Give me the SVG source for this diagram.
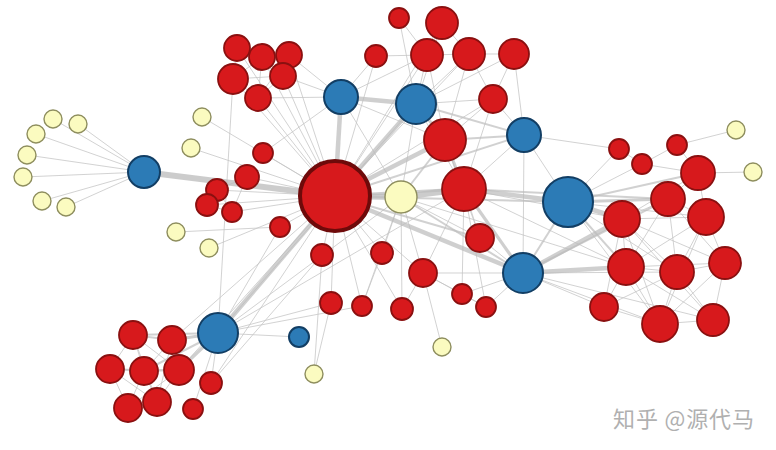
<svg xmlns="http://www.w3.org/2000/svg" width="776" height="450" viewBox="0 0 776 450">
<style>
.e1{stroke:#c4c4c4;stroke-width:0.9;stroke-opacity:0.85}
.e2{stroke:#bdbdbd;stroke-width:2;stroke-opacity:0.7}
.e3{stroke:#bbbbbb;stroke-width:3.2;stroke-opacity:0.7}
.e4{stroke:#bbbbbb;stroke-width:4.5;stroke-opacity:0.7}
.e5{stroke:#bbbbbb;stroke-width:6;stroke-opacity:0.75}
.r{fill:#d7191c;stroke:#8a1010;stroke-width:1.8}
.b{fill:#2c7bb6;stroke:#123e64;stroke-width:2}
.y{fill:#fbfbc0;stroke:#8e8e5e;stroke-width:1.4}
.big{fill:#d7191c;stroke:#6e0a0a;stroke-width:4}
.wm{font-family:"Noto Sans CJK SC","Noto Sans",sans-serif;font-size:22px;fill:#b0b0b0}
</style>
<rect width="776" height="450" fill="#ffffff"/>
<g id="connectors">
<line class="e1" x1="53" y1="119" x2="144" y2="172"/>
<line class="e1" x1="78" y1="124" x2="144" y2="172"/>
<line class="e1" x1="36" y1="134" x2="144" y2="172"/>
<line class="e1" x1="27" y1="155" x2="144" y2="172"/>
<line class="e1" x1="23" y1="177" x2="144" y2="172"/>
<line class="e1" x1="42" y1="201" x2="144" y2="172"/>
<line class="e1" x1="66" y1="207" x2="144" y2="172"/>
<line class="e1" x1="202" y1="117" x2="335" y2="196"/>
<line class="e1" x1="191" y1="148" x2="335" y2="196"/>
<line class="e1" x1="176" y1="232" x2="280" y2="227"/>
<line class="e1" x1="209" y1="248" x2="335" y2="196"/>
<line class="e1" x1="314" y1="374" x2="331" y2="303"/>
<line class="e1" x1="442" y1="347" x2="423" y2="273"/>
<line class="e1" x1="736" y1="130" x2="677" y2="145"/>
<line class="e1" x1="753" y1="172" x2="698" y2="173"/>
<line class="e1" x1="237" y1="48" x2="262" y2="57"/>
<line class="e1" x1="237" y1="48" x2="233" y2="79"/>
<line class="e1" x1="237" y1="48" x2="289" y2="55"/>
<line class="e1" x1="262" y1="57" x2="233" y2="79"/>
<line class="e1" x1="262" y1="57" x2="283" y2="76"/>
<line class="e1" x1="262" y1="57" x2="258" y2="98"/>
<line class="e1" x1="289" y1="55" x2="283" y2="76"/>
<line class="e1" x1="233" y1="79" x2="258" y2="98"/>
<line class="e1" x1="283" y1="76" x2="258" y2="98"/>
<line class="e1" x1="237" y1="48" x2="283" y2="76"/>
<line class="e1" x1="289" y1="55" x2="258" y2="98"/>
<line class="e1" x1="233" y1="79" x2="283" y2="76"/>
<line class="e1" x1="237" y1="48" x2="335" y2="196"/>
<line class="e1" x1="262" y1="57" x2="335" y2="196"/>
<line class="e1" x1="289" y1="55" x2="335" y2="196"/>
<line class="e1" x1="233" y1="79" x2="335" y2="196"/>
<line class="e1" x1="283" y1="76" x2="335" y2="196"/>
<line class="e1" x1="258" y1="98" x2="335" y2="196"/>
<line class="e1" x1="283" y1="76" x2="341" y2="97"/>
<line class="e1" x1="289" y1="55" x2="341" y2="97"/>
<line class="e1" x1="258" y1="98" x2="341" y2="97"/>
<line class="e1" x1="233" y1="79" x2="218" y2="333"/>
<line class="e1" x1="376" y1="56" x2="341" y2="97"/>
<line class="e1" x1="376" y1="56" x2="335" y2="196"/>
<line class="e1" x1="376" y1="56" x2="427" y2="55"/>
<line class="e1" x1="263" y1="153" x2="335" y2="196"/>
<line class="e1" x1="247" y1="177" x2="335" y2="196"/>
<line class="e1" x1="217" y1="190" x2="335" y2="196"/>
<line class="e1" x1="207" y1="205" x2="335" y2="196"/>
<line class="e1" x1="232" y1="212" x2="335" y2="196"/>
<line class="e1" x1="247" y1="177" x2="217" y2="190"/>
<line class="e1" x1="217" y1="190" x2="207" y2="205"/>
<line class="e1" x1="207" y1="205" x2="232" y2="212"/>
<line class="e1" x1="247" y1="177" x2="232" y2="212"/>
<line class="e1" x1="217" y1="190" x2="232" y2="212"/>
<line class="e1" x1="263" y1="153" x2="341" y2="97"/>
<line class="e1" x1="280" y1="227" x2="335" y2="196"/>
<line class="e1" x1="322" y1="255" x2="335" y2="196"/>
<line class="e1" x1="322" y1="255" x2="314" y2="374"/>
<line class="e1" x1="382" y1="253" x2="335" y2="196"/>
<line class="e1" x1="382" y1="253" x2="401" y2="197"/>
<line class="e1" x1="382" y1="253" x2="362" y2="306"/>
<line class="e1" x1="480" y1="238" x2="464" y2="189"/>
<line class="e1" x1="480" y1="238" x2="523" y2="273"/>
<line class="e1" x1="480" y1="238" x2="401" y2="197"/>
<line class="e1" x1="480" y1="238" x2="445" y2="140"/>
<line class="e1" x1="423" y1="273" x2="401" y2="197"/>
<line class="e1" x1="423" y1="273" x2="335" y2="196"/>
<line class="e1" x1="423" y1="273" x2="464" y2="189"/>
<line class="e1" x1="423" y1="273" x2="402" y2="309"/>
<line class="e1" x1="423" y1="273" x2="462" y2="294"/>
<line class="e1" x1="423" y1="273" x2="523" y2="273"/>
<line class="e1" x1="423" y1="273" x2="486" y2="307"/>
<line class="e1" x1="331" y1="303" x2="335" y2="196"/>
<line class="e1" x1="362" y1="306" x2="335" y2="196"/>
<line class="e1" x1="362" y1="306" x2="401" y2="197"/>
<line class="e1" x1="402" y1="309" x2="401" y2="197"/>
<line class="e1" x1="402" y1="309" x2="335" y2="196"/>
<line class="e1" x1="462" y1="294" x2="523" y2="273"/>
<line class="e1" x1="462" y1="294" x2="464" y2="189"/>
<line class="e1" x1="486" y1="307" x2="523" y2="273"/>
<line class="e1" x1="486" y1="307" x2="462" y2="294"/>
<line class="e1" x1="486" y1="307" x2="464" y2="189"/>
<line class="e1" x1="399" y1="18" x2="427" y2="55"/>
<line class="e1" x1="399" y1="18" x2="416" y2="104"/>
<line class="e1" x1="442" y1="23" x2="427" y2="55"/>
<line class="e1" x1="442" y1="23" x2="469" y2="54"/>
<line class="e1" x1="442" y1="23" x2="416" y2="104"/>
<line class="e1" x1="442" y1="23" x2="335" y2="196"/>
<line class="e1" x1="427" y1="55" x2="469" y2="54"/>
<line class="e1" x1="427" y1="55" x2="416" y2="104"/>
<line class="e1" x1="427" y1="55" x2="335" y2="196"/>
<line class="e1" x1="427" y1="55" x2="445" y2="140"/>
<line class="e1" x1="469" y1="54" x2="514" y2="54"/>
<line class="e1" x1="469" y1="54" x2="416" y2="104"/>
<line class="e1" x1="469" y1="54" x2="445" y2="140"/>
<line class="e1" x1="469" y1="54" x2="493" y2="99"/>
<line class="e1" x1="469" y1="54" x2="335" y2="196"/>
<line class="e1" x1="514" y1="54" x2="493" y2="99"/>
<line class="e1" x1="514" y1="54" x2="524" y2="135"/>
<line class="e1" x1="514" y1="54" x2="416" y2="104"/>
<line class="e1" x1="493" y1="99" x2="416" y2="104"/>
<line class="e1" x1="493" y1="99" x2="445" y2="140"/>
<line class="e1" x1="493" y1="99" x2="524" y2="135"/>
<line class="e1" x1="493" y1="99" x2="464" y2="189"/>
<line class="e1" x1="493" y1="99" x2="335" y2="196"/>
<line class="e1" x1="416" y1="104" x2="464" y2="189"/>
<line class="e1" x1="416" y1="104" x2="401" y2="197"/>
<line class="e1" x1="524" y1="135" x2="464" y2="189"/>
<line class="e1" x1="524" y1="135" x2="619" y2="149"/>
<line class="e1" x1="524" y1="135" x2="568" y2="202"/>
<line class="e1" x1="524" y1="135" x2="523" y2="273"/>
<line class="e1" x1="341" y1="97" x2="445" y2="140"/>
<line class="e1" x1="341" y1="97" x2="401" y2="197"/>
<line class="e1" x1="341" y1="97" x2="427" y2="55"/>
<line class="e1" x1="619" y1="149" x2="568" y2="202"/>
<line class="e1" x1="619" y1="149" x2="642" y2="164"/>
<line class="e1" x1="677" y1="145" x2="642" y2="164"/>
<line class="e1" x1="677" y1="145" x2="698" y2="173"/>
<line class="e1" x1="642" y1="164" x2="568" y2="202"/>
<line class="e1" x1="642" y1="164" x2="698" y2="173"/>
<line class="e1" x1="698" y1="173" x2="668" y2="199"/>
<line class="e1" x1="698" y1="173" x2="706" y2="217"/>
<line class="e1" x1="698" y1="173" x2="622" y2="219"/>
<line class="e1" x1="668" y1="199" x2="622" y2="219"/>
<line class="e1" x1="668" y1="199" x2="706" y2="217"/>
<line class="e1" x1="668" y1="199" x2="626" y2="267"/>
<line class="e1" x1="668" y1="199" x2="677" y2="272"/>
<line class="e1" x1="668" y1="199" x2="725" y2="263"/>
<line class="e1" x1="622" y1="219" x2="706" y2="217"/>
<line class="e1" x1="622" y1="219" x2="626" y2="267"/>
<line class="e1" x1="622" y1="219" x2="677" y2="272"/>
<line class="e1" x1="622" y1="219" x2="604" y2="307"/>
<line class="e1" x1="622" y1="219" x2="660" y2="324"/>
<line class="e1" x1="622" y1="219" x2="713" y2="320"/>
<line class="e1" x1="622" y1="219" x2="725" y2="263"/>
<line class="e1" x1="706" y1="217" x2="626" y2="267"/>
<line class="e1" x1="706" y1="217" x2="677" y2="272"/>
<line class="e1" x1="706" y1="217" x2="725" y2="263"/>
<line class="e1" x1="706" y1="217" x2="660" y2="324"/>
<line class="e1" x1="626" y1="267" x2="677" y2="272"/>
<line class="e1" x1="626" y1="267" x2="725" y2="263"/>
<line class="e1" x1="626" y1="267" x2="604" y2="307"/>
<line class="e1" x1="626" y1="267" x2="660" y2="324"/>
<line class="e1" x1="626" y1="267" x2="713" y2="320"/>
<line class="e1" x1="677" y1="272" x2="725" y2="263"/>
<line class="e1" x1="677" y1="272" x2="660" y2="324"/>
<line class="e1" x1="677" y1="272" x2="713" y2="320"/>
<line class="e1" x1="677" y1="272" x2="604" y2="307"/>
<line class="e1" x1="725" y1="263" x2="713" y2="320"/>
<line class="e1" x1="725" y1="263" x2="660" y2="324"/>
<line class="e1" x1="604" y1="307" x2="660" y2="324"/>
<line class="e1" x1="604" y1="307" x2="523" y2="273"/>
<line class="e1" x1="660" y1="324" x2="713" y2="320"/>
<line class="e1" x1="660" y1="324" x2="523" y2="273"/>
<line class="e1" x1="713" y1="320" x2="523" y2="273"/>
<line class="e1" x1="677" y1="272" x2="523" y2="273"/>
<line class="e1" x1="568" y1="202" x2="706" y2="217"/>
<line class="e1" x1="568" y1="202" x2="677" y2="272"/>
<line class="e1" x1="568" y1="202" x2="660" y2="324"/>
<line class="e1" x1="464" y1="189" x2="622" y2="219"/>
<line class="e1" x1="464" y1="189" x2="626" y2="267"/>
<line class="e1" x1="401" y1="197" x2="626" y2="267"/>
<line class="e1" x1="133" y1="335" x2="110" y2="369"/>
<line class="e1" x1="133" y1="335" x2="144" y2="371"/>
<line class="e1" x1="133" y1="335" x2="179" y2="370"/>
<line class="e1" x1="172" y1="340" x2="144" y2="371"/>
<line class="e1" x1="110" y1="369" x2="128" y2="408"/>
<line class="e1" x1="110" y1="369" x2="157" y2="402"/>
<line class="e1" x1="144" y1="371" x2="128" y2="408"/>
<line class="e1" x1="144" y1="371" x2="157" y2="402"/>
<line class="e1" x1="179" y1="370" x2="157" y2="402"/>
<line class="e1" x1="128" y1="408" x2="157" y2="402"/>
<line class="e1" x1="110" y1="369" x2="179" y2="370"/>
<line class="e1" x1="133" y1="335" x2="157" y2="402"/>
<line class="e1" x1="172" y1="340" x2="157" y2="402"/>
<line class="e1" x1="179" y1="370" x2="128" y2="408"/>
<line class="e1" x1="218" y1="333" x2="211" y2="383"/>
<line class="e1" x1="193" y1="409" x2="218" y2="333"/>
<line class="e1" x1="211" y1="383" x2="335" y2="196"/>
<line class="e1" x1="172" y1="340" x2="335" y2="196"/>
<line class="e1" x1="179" y1="370" x2="335" y2="196"/>
<line class="e1" x1="218" y1="333" x2="401" y2="197"/>
<line class="e1" x1="218" y1="333" x2="464" y2="189"/>
<line class="e1" x1="218" y1="333" x2="416" y2="104"/>
<line class="e1" x1="218" y1="333" x2="299" y2="337"/>
<line class="e1" x1="218" y1="333" x2="331" y2="303"/>
<line class="e1" x1="211" y1="383" x2="322" y2="255"/>
<line class="e1" x1="218" y1="333" x2="362" y2="306"/>
<line class="e1" x1="218" y1="333" x2="280" y2="227"/>
<line class="e2" x1="218" y1="333" x2="133" y2="335"/>
<line class="e2" x1="218" y1="333" x2="144" y2="371"/>
<line class="e2" x1="401" y1="197" x2="523" y2="273"/>
<line class="e2" x1="401" y1="197" x2="445" y2="140"/>
<line class="e2" x1="464" y1="189" x2="668" y2="199"/>
<line class="e2" x1="568" y1="202" x2="698" y2="173"/>
<line class="e2" x1="416" y1="104" x2="524" y2="135"/>
<line class="e2" x1="445" y1="140" x2="524" y2="135"/>
<line class="e2" x1="523" y1="273" x2="568" y2="202"/>
<line class="e2" x1="133" y1="335" x2="172" y2="340"/>
<line class="e2" x1="110" y1="369" x2="144" y2="371"/>
<line class="e2" x1="144" y1="371" x2="179" y2="370"/>
<line class="e2" x1="172" y1="340" x2="179" y2="370"/>
<line class="e2" x1="523" y1="273" x2="668" y2="199"/>
<line class="e2" x1="568" y1="202" x2="626" y2="267"/>
<line class="e2" x1="335" y1="196" x2="480" y2="238"/>
<line class="e2" x1="335" y1="196" x2="524" y2="135"/>
<line class="e2" x1="335" y1="196" x2="568" y2="202"/>
<line class="e3" x1="416" y1="104" x2="445" y2="140"/>
<line class="e3" x1="445" y1="140" x2="464" y2="189"/>
<line class="e3" x1="523" y1="273" x2="464" y2="189"/>
<line class="e3" x1="568" y1="202" x2="668" y2="199"/>
<line class="e3" x1="218" y1="333" x2="172" y2="340"/>
<line class="e3" x1="218" y1="333" x2="179" y2="370"/>
<line class="e3" x1="335" y1="196" x2="464" y2="189"/>
<line class="e4" x1="335" y1="196" x2="416" y2="104"/>
<line class="e4" x1="335" y1="196" x2="445" y2="140"/>
<line class="e4" x1="464" y1="189" x2="568" y2="202"/>
<line class="e4" x1="335" y1="196" x2="341" y2="97"/>
<line class="e4" x1="341" y1="97" x2="416" y2="104"/>
<line class="e4" x1="335" y1="196" x2="218" y2="333"/>
<line class="e4" x1="335" y1="196" x2="523" y2="273"/>
<line class="e4" x1="523" y1="273" x2="622" y2="219"/>
<line class="e4" x1="523" y1="273" x2="626" y2="267"/>
<line class="e4" x1="568" y1="202" x2="622" y2="219"/>
<line class="e5" x1="144" y1="172" x2="335" y2="196"/>
<line class="e5" x1="335" y1="196" x2="401" y2="197"/>
<line class="e5" x1="401" y1="197" x2="464" y2="189"/>
</g>
<g id="n-y01"><circle class="y" cx="53" cy="119" r="9"/></g>
<g id="n-y02"><circle class="y" cx="78" cy="124" r="9"/></g>
<g id="n-y03"><circle class="y" cx="36" cy="134" r="9"/></g>
<g id="n-y04"><circle class="y" cx="27" cy="155" r="9"/></g>
<g id="n-y05"><circle class="y" cx="23" cy="177" r="9"/></g>
<g id="n-y06"><circle class="y" cx="42" cy="201" r="9"/></g>
<g id="n-y07"><circle class="y" cx="66" cy="207" r="9"/></g>
<g id="n-y08"><circle class="y" cx="202" cy="117" r="9"/></g>
<g id="n-y09"><circle class="y" cx="191" cy="148" r="9"/></g>
<g id="n-y10"><circle class="y" cx="176" cy="232" r="9"/></g>
<g id="n-y11"><circle class="y" cx="209" cy="248" r="9"/></g>
<g id="n-y12"><circle class="y" cx="314" cy="374" r="9"/></g>
<g id="n-y13"><circle class="y" cx="442" cy="347" r="9"/></g>
<g id="n-y14"><circle class="y" cx="736" cy="130" r="9"/></g>
<g id="n-y15"><circle class="y" cx="753" cy="172" r="9"/></g>
<g id="n-y16"><circle class="y" cx="401" cy="197" r="16"/></g>
<g id="n-b1"><circle class="b" cx="144" cy="172" r="16"/></g>
<g id="n-b2"><circle class="b" cx="341" cy="97" r="17"/></g>
<g id="n-b3"><circle class="b" cx="416" cy="104" r="20"/></g>
<g id="n-b4"><circle class="b" cx="524" cy="135" r="17"/></g>
<g id="n-b5"><circle class="b" cx="568" cy="202" r="25"/></g>
<g id="n-b6"><circle class="b" cx="523" cy="273" r="20"/></g>
<g id="n-b7"><circle class="b" cx="218" cy="333" r="20"/></g>
<g id="n-b8"><circle class="b" cx="299" cy="337" r="10"/></g>
<g id="n-t1"><circle class="r" cx="237" cy="48" r="13"/></g>
<g id="n-t2"><circle class="r" cx="262" cy="57" r="13"/></g>
<g id="n-t3"><circle class="r" cx="289" cy="55" r="13"/></g>
<g id="n-t5"><circle class="r" cx="283" cy="76" r="13"/></g>
<g id="n-t4"><circle class="r" cx="233" cy="79" r="15"/></g>
<g id="n-t6"><circle class="r" cx="258" cy="98" r="13"/></g>
<g id="n-u0"><circle class="r" cx="376" cy="56" r="11"/></g>
<g id="n-l1"><circle class="r" cx="263" cy="153" r="10"/></g>
<g id="n-l2"><circle class="r" cx="247" cy="177" r="12"/></g>
<g id="n-l3"><circle class="r" cx="217" cy="190" r="11"/></g>
<g id="n-l4"><circle class="r" cx="207" cy="205" r="11"/></g>
<g id="n-l5"><circle class="r" cx="232" cy="212" r="10"/></g>
<g id="n-u1"><circle class="r" cx="399" cy="18" r="10"/></g>
<g id="n-u2"><circle class="r" cx="442" cy="23" r="16"/></g>
<g id="n-u3"><circle class="r" cx="427" cy="55" r="16"/></g>
<g id="n-u4"><circle class="r" cx="469" cy="54" r="16"/></g>
<g id="n-u5"><circle class="r" cx="514" cy="54" r="15"/></g>
<g id="n-u6"><circle class="r" cx="493" cy="99" r="14"/></g>
<g id="n-u7"><circle class="r" cx="445" cy="140" r="21"/></g>
<g id="n-m1"><circle class="r" cx="464" cy="189" r="22"/></g>
<g id="n-v1"><circle class="r" cx="619" cy="149" r="10"/></g>
<g id="n-v2"><circle class="r" cx="677" cy="145" r="10"/></g>
<g id="n-v3"><circle class="r" cx="642" cy="164" r="10"/></g>
<g id="n-v4"><circle class="r" cx="698" cy="173" r="17"/></g>
<g id="n-v5"><circle class="r" cx="668" cy="199" r="17"/></g>
<g id="n-v6"><circle class="r" cx="622" cy="219" r="18"/></g>
<g id="n-v7"><circle class="r" cx="706" cy="217" r="18"/></g>
<g id="n-v8"><circle class="r" cx="626" cy="267" r="18"/></g>
<g id="n-v9"><circle class="r" cx="677" cy="272" r="17"/></g>
<g id="n-v10"><circle class="r" cx="725" cy="263" r="16"/></g>
<g id="n-v11"><circle class="r" cx="604" cy="307" r="14"/></g>
<g id="n-v12"><circle class="r" cx="660" cy="324" r="18"/></g>
<g id="n-v13"><circle class="r" cx="713" cy="320" r="16"/></g>
<g id="n-m2"><circle class="r" cx="280" cy="227" r="10"/></g>
<g id="n-m3"><circle class="r" cx="322" cy="255" r="11"/></g>
<g id="n-m4"><circle class="r" cx="382" cy="253" r="11"/></g>
<g id="n-m5"><circle class="r" cx="480" cy="238" r="14"/></g>
<g id="n-m6"><circle class="r" cx="423" cy="273" r="14"/></g>
<g id="n-m7"><circle class="r" cx="331" cy="303" r="11"/></g>
<g id="n-m8"><circle class="r" cx="362" cy="306" r="10"/></g>
<g id="n-m9"><circle class="r" cx="402" cy="309" r="11"/></g>
<g id="n-m10"><circle class="r" cx="462" cy="294" r="10"/></g>
<g id="n-m11"><circle class="r" cx="486" cy="307" r="10"/></g>
<g id="n-w1"><circle class="r" cx="133" cy="335" r="14"/></g>
<g id="n-w2"><circle class="r" cx="172" cy="340" r="14"/></g>
<g id="n-w3"><circle class="r" cx="110" cy="369" r="14"/></g>
<g id="n-w4"><circle class="r" cx="144" cy="371" r="14"/></g>
<g id="n-w5"><circle class="r" cx="179" cy="370" r="15"/></g>
<g id="n-w6"><circle class="r" cx="211" cy="383" r="11"/></g>
<g id="n-w7"><circle class="r" cx="128" cy="408" r="14"/></g>
<g id="n-w8"><circle class="r" cx="157" cy="402" r="14"/></g>
<g id="n-w9"><circle class="r" cx="193" cy="409" r="10"/></g>
<g id="n-center"><circle class="big" cx="335" cy="196" r="35"/></g>
<text class="wm" x="613" y="427" textLength="141" lengthAdjust="spacing">知乎 @源代马</text>
</svg>
